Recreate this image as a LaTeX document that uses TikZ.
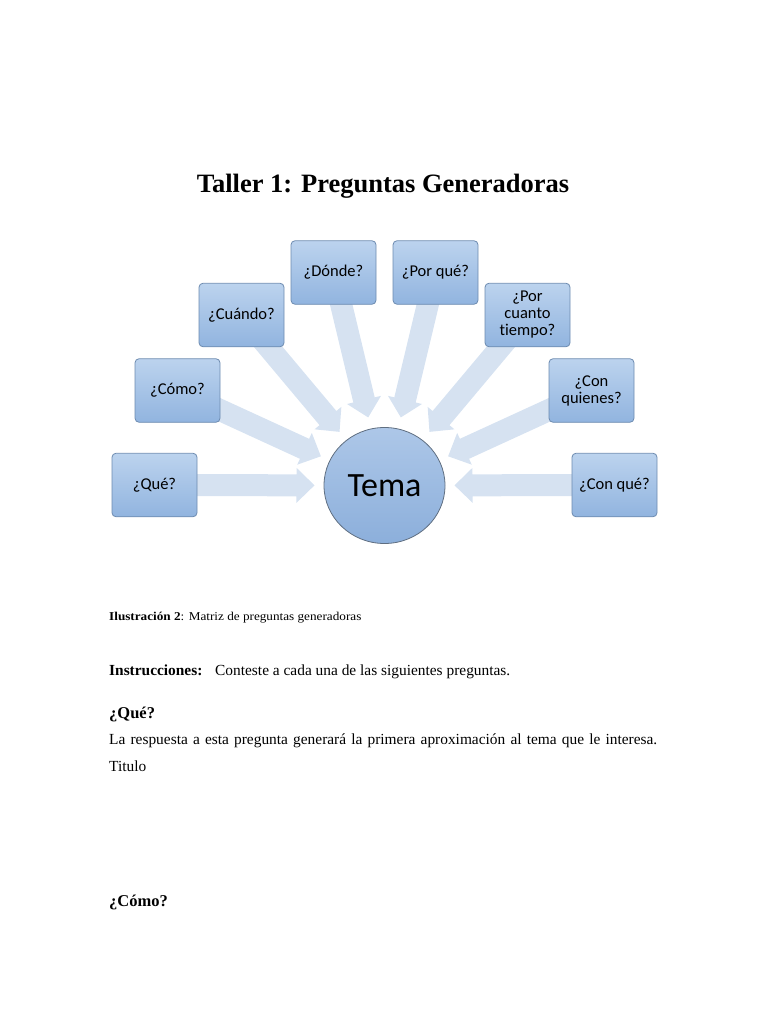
\documentclass[tikz,border=0pt]{standalone}
\usepackage{fontspec}
\setmainfont{Liberation Serif}
\newfontfamily\calibri[Ligatures=NoCommon]{Carlito}
\usetikzlibrary{shapes.geometric,calc,backgrounds}
\definecolor{boxtop}{HTML}{BCD3EE}
\definecolor{boxbot}{HTML}{91B4DF}
\definecolor{boxline}{HTML}{6D8BB0}
\definecolor{circtop}{HTML}{ADC7E8}
\definecolor{circbot}{HTML}{8CAFDB}
\definecolor{circline}{HTML}{5F6E80}
\definecolor{arrowfill}{HTML}{D6E2F1}
\tikzset{
  qbox/.style={rectangle, rounded corners=4pt, minimum width=85pt, minimum height=63.5pt,
    inner sep=2pt, top color=boxtop, bottom color=boxbot, draw=boxline, line width=0.8pt,
    align=center, font=\calibri\fontsize{16.5}{17}\selectfont, text=black},
  temanode/.style={ellipse, minimum width=121pt, minimum height=116pt, inner sep=0pt,
    top color=circtop, bottom color=circbot, draw=circline, line width=0.8pt,
    font=\calibri\fontsize{34}{40}\selectfont},
  blockarrow/.style={fill=arrowfill, draw=none},
  bodytext/.style={anchor=base west, inner sep=0pt, font=\fontsize{15.4}{18}\selectfont},
}
\begin{document}
\begin{tikzpicture}[x=1pt,y=-1pt]
\useasboundingbox (0,0) rectangle (768,1024);

\node[anchor=base, inner sep=0pt, font=\fontsize{26.5}{30}\selectfont\bfseries] (title) at (383,193) {Taller 1: Preguntas Generadoras};

\node[temanode] (tema) at (384.5,485.5) {Tema};
\node[qbox] (que) at (154.5,485) {¿Qué?};
\node[qbox] (como) at (177.5,390.5) {¿Cómo?};
\node[qbox] (cuando) at (241.5,315) {¿Cuándo?};
\node[qbox] (donde) at (333.5,272.5) {¿Dónde?};
\node[qbox] (porque) at (435.5,272.5) {¿Por qué?};
\node[qbox] (cuanto) at (527.5,315) {¿Por\\cuanto\\tiempo?};
\node[qbox] (quienes) at (591.5,390.5) {¿Con\\quienes?};
\node[qbox] (conque) at (614.5,485) {¿Con qué?};

\begin{pgfonlayer}{background}
\foreach \b in {que,como,cuando,donde,porque,cuanto,quienes,conque}{
  \path[blockarrow] let \p1=(\b.center), \p2=($(tema.center)!70pt!(\b.center)$),
      \n1={atan2(\y2-\y1,\x2-\x1)}, \n2={veclen(\x2-\x1,\y2-\y1)}, \n3={\n2-18} in
    (\p1) -- ++(\n1+90:11pt) -- ++(\n1:\n3) -- ++(\n1+90:6.5pt) -- (\p2)
    -- ($(\p2)+(\n1+180:18pt)+(\n1-90:17.5pt)$) -- ++(\n1+90:6.5pt)
    -- ++(\n1+180:\n3) -- cycle;
}
\end{pgfonlayer}

\node[anchor=base west, inner sep=0pt, font=\fontsize{12}{14}\selectfont] (caption) at (109,620.5)
  {\scalebox{1.1}[1]{\textbf{Ilustración 2}: Matriz de preguntas generadoras}};

\node[bodytext] (instr) at (109,675.7) {\textbf{Instrucciones:}};
\node[bodytext] (instrtext) at (215,675.7) {Conteste a cada una de las siguientes preguntas.};
\node[anchor=base west, inner sep=0pt, font=\fontsize{16.5}{20}\selectfont\bfseries] (hque) at (109,718.3) {¿Qué?};
\node[bodytext] (resp) at (109,744.3) {\makebox[548pt][s]{La respuesta a esta pregunta generará la primera aproximación al tema que le interesa.}};
\node[bodytext] (titulo) at (109,771) {Titulo};
\node[anchor=base west, inner sep=0pt, font=\fontsize{16.5}{20}\selectfont\bfseries] (hcomo) at (109,906) {¿Cómo?};
\end{tikzpicture}
\end{document}
